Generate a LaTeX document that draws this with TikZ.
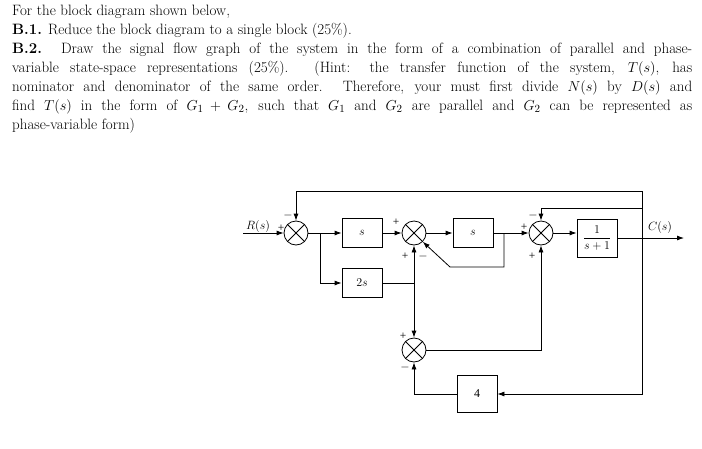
\documentclass[tikz,border=0pt]{standalone}
\usepackage{fontspec}
\newfontfamily\tms{Liberation Serif}
\usetikzlibrary{arrows.meta}
\begin{document}
\begin{tikzpicture}[x=1pt,y=-1pt,
  blk/.style={draw,line width=0.8pt,minimum width=40pt,minimum height=29pt,inner sep=0pt,font=\tms\fontsize{12}{13}\selectfont},
  sj/.style={draw,circle,line width=0.8pt,minimum size=24pt,inner sep=0pt,path picture={\draw[line width=0.8pt] (path picture bounding box.north west)--(path picture bounding box.south east) (path picture bounding box.north east)--(path picture bounding box.south west);}},
  ln/.style={line width=0.8pt},
  ar/.style={line width=0.8pt,-{Latex[length=7pt,width=5pt]}},
  sg/.style={font=\tms\fontsize{11.5}{12}\selectfont,inner sep=1pt}]
\useasboundingbox (0,0) rectangle (702,448);
\node[anchor=north west,text width=680pt,align=justify,inner sep=0pt] (txt) at (12,5) {\fontsize{15}{18.9}\selectfont
For the block diagram shown below,\\
\textbf{B.1.} Reduce the block diagram to a single block (25\%).\\
\textbf{B.2.} Draw the signal flow graph of the system in the form of a combination of parallel and phase-\linebreak
variable state-space representations (25\%). (Hint: the transfer function of the system, $T(s)$, has\linebreak
nominator and denominator of the same order. Therefore, your must first divide $N(s)$ by $D(s)$ and\linebreak
find $T(s)$ in the form of $G_1+G_2$, such that $G_1$ and $G_2$ are parallel and $G_2$ can be represented as\linebreak
phase-variable form)\par};
% nodes
\coordinate (in) at (243,233);
\node[sj] (s1) at (296,233) {};
\node[blk] (b1) at (362,233) {$s$};
\node[sj] (s2) at (414,233) {};
\node[blk] (b2) at (473,233) {$s$};
\node[sj] (s3) at (541,233) {};
\node[blk,minimum height=38pt] (b3) at (597,238) {$\displaystyle\frac{1}{s+1}$};
\coordinate (out) at (684,238);
\node[blk] (b4) at (362,283) {$2s$};
\node[sj] (s4) at (414,350) {};
\node[blk,minimum height=37pt] (b5) at (477,394) {4};
\coordinate (t1) at (320,233);
\coordinate (t2) at (504,233);
\coordinate (t3) at (642,238);
\coordinate (j) at (414,283);
% connections
\draw[ar] (in) -- (s1);
\draw[ar] (s1) -- (b1);
\draw[ar] (b1) -- (s2);
\draw[ar] (s2) -- (b2);
\draw[ar] (b2) -- (s3);
\draw[ar] (s3) -- (b3.west|-s3);
\draw[ar] (b3) -- (out);
\draw[ar] (t1) |- (b4);
\draw[ln] (b4) -- (j);
\draw[ar] (j) -- (s2);
\draw[ar] (j) -- (s4);
\draw[ar] (t2) |- (450,267) -- (s2.south east);
\draw[ar] (s4) -| (s3);
\draw[ar] (t3) |- (b5);
\draw[ar] (b5) -| (s4);
\draw[ar] (t3) |- (296,191) -- (s1);
\draw[ar] (642,208) -| (s3);
% signs
\node[sg] at (258,226) {$R(s)$};
\node[sg] at (660,227) {$C(s)$};
\node[sg] at (281,228) {+};
\node[sg] at (288,215) {$-$};
\node[sg] at (396,222) {+};
\node[sg] at (405,256) {+};
\node[sg] at (423,256) {$-$};
\node[sg] at (524,227) {+};
\node[sg] at (533,215) {$-$};
\node[sg] at (532,256) {+};
\node[sg] at (403,336) {+};
\node[sg] at (405,367) {$-$};
\end{tikzpicture}
\end{document}
